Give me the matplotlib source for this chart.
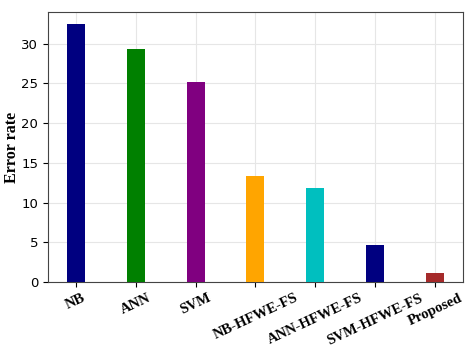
import matplotlib
matplotlib.use('Agg')
import matplotlib.pyplot as plt
import numpy as np

methods = ['NB', 'ANN', 'SVM', 'NB-HFWE-FS', 'ANN-HFWE-FS', 'SVM-HFWE-FS', 'Proposed']
error_rate = [32.5, 29.3, 25.2, 13.4, 11.8, 4.6, 1.1]
bar_colors = ['navy', 'green', 'purple', 'orange', 'c', 'navy', 'brown']

fig = plt.figure(figsize=(4.74, 3.55), dpi=100)
ax = fig.add_axes([0.101, 0.206, 0.876, 0.760])

x = np.arange(len(methods))
ax.bar(x, error_rate, width=0.3, color=bar_colors, zorder=3)
ax.grid(True, color='#e6e6e6', linewidth=0.8, zorder=0)
ax.set_ylim(0, 34)
ax.set_xticks(x)
ax.set_xticklabels(methods, rotation=25, family='Liberation Serif',
                   fontweight='bold', fontsize=10.5, ha='center')
ax.set_ylabel('Error rate', family='Liberation Serif', fontweight='bold',
              fontsize=11.5)
ax.yaxis.set_label_coords(-0.068, 0.5)
ax.tick_params(axis='y', labelsize=9.5)
for s in ax.spines.values():
    s.set_color('#444444')

fig.savefig('out.png', dpi=100)
